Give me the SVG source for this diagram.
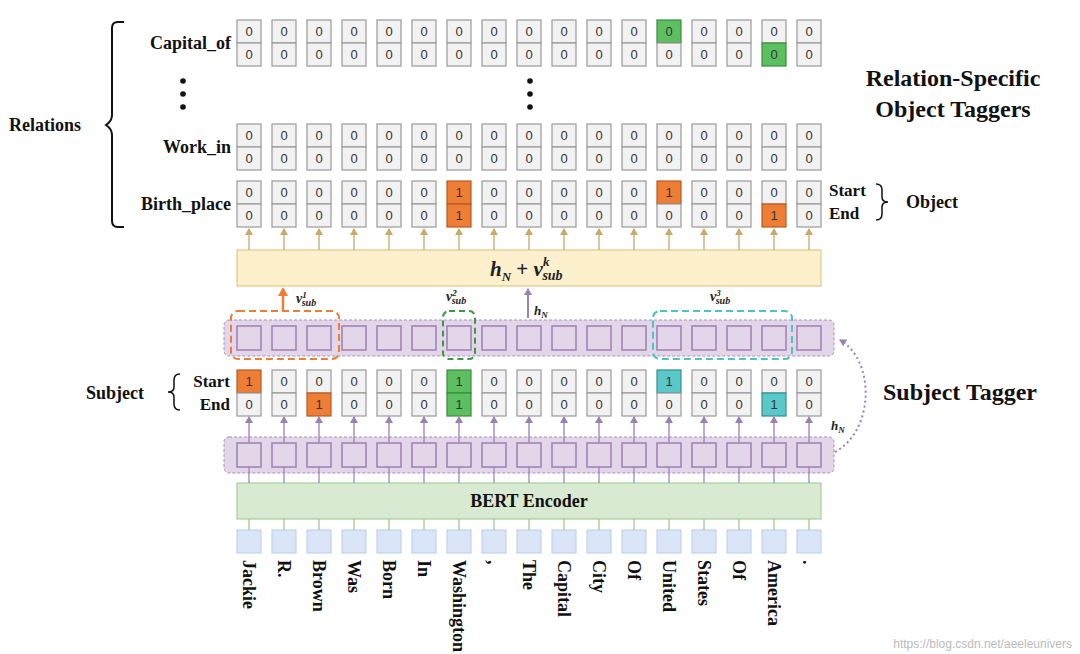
<svg xmlns="http://www.w3.org/2000/svg" width="1080" height="654" viewBox="0 0 1080 654">
<defs>
<style>
.c{fill:#f2f2f2;stroke:#999;stroke-width:1.2}
.o{fill:#ee7d35;stroke:#b85c20;stroke-width:1.2}
.g{fill:#5cc060;stroke:#3a8a3c;stroke-width:1.2}
.b{fill:#5ac8c8;stroke:#2f8f8f;stroke-width:1.2}
.t{font-family:"Liberation Sans",Arial,sans-serif;font-size:13px;fill:#333;text-anchor:middle}
.l{font-family:"Liberation Serif","Times New Roman",serif;font-weight:bold;font-size:18px;fill:#111}
.w{font-family:"Liberation Serif","Times New Roman",serif;font-weight:bold;font-size:18px;fill:#111}
.ya{stroke:#c8a96a;stroke-width:1.3;fill:none;marker-end:url(#my)}
.pa{stroke:#9b80b5;stroke-width:1.3;fill:none;marker-end:url(#mp)}
.pl{stroke:#9b80b5;stroke-width:1.2}
.gl{stroke:#9cc48a;stroke-width:1.2}
.tok{fill:#dae6f8;stroke:#b8cce8;stroke-width:1}
.m{font-family:"Liberation Serif","Times New Roman",serif;font-weight:bold;font-style:italic;fill:#222}
</style>
<marker id="my" markerWidth="8" markerHeight="8" refX="6" refY="4" orient="auto" markerUnits="userSpaceOnUse"><path d="M0,0 L7,4 L0,8 z" fill="#c8a96a"/></marker>
<marker id="mp" markerWidth="8" markerHeight="8" refX="6" refY="4" orient="auto" markerUnits="userSpaceOnUse"><path d="M0,0 L7,4 L0,8 z" fill="#9b80b5"/></marker>
<marker id="mo" markerWidth="10" markerHeight="10" refX="7" refY="5" orient="auto" markerUnits="userSpaceOnUse"><path d="M0,0 L9,5 L0,10 z" fill="#ee7d35"/></marker>
</defs>
<rect width="1080" height="654" fill="#fff"/>

<g id="labels">
<text class="l" x="231" y="49" text-anchor="end">Capital_of</text>
<text class="l" x="231" y="153" text-anchor="end">Work_in</text>
<text class="l" x="231" y="210" text-anchor="end">Birth_place</text>
<circle cx="183" cy="81" r="2.8" fill="#111"/><circle cx="183" cy="94" r="2.8" fill="#111"/><circle cx="183" cy="107" r="2.8" fill="#111"/>
<circle cx="530" cy="81" r="2.8" fill="#111"/><circle cx="530" cy="94" r="2.8" fill="#111"/><circle cx="530" cy="107" r="2.8" fill="#111"/>
<path d="M124,22 h-6 q-6,0 -6,6 v87 q0,6 -6,10 q6,4 6,10 v86 q0,6 6,6 h6" fill="none" stroke="#111" stroke-width="2"/>
<text class="l" x="9" y="131">Relations</text>
<text x="953" y="86" class="w" style="font-size:24px" text-anchor="middle">Relation-Specific</text>
<text x="953" y="117" class="w" style="font-size:24px" text-anchor="middle">Object Taggers</text>
<text class="l" x="829" y="196" style="font-size:17px">Start</text>
<text class="l" x="829" y="219" style="font-size:17px">End</text>
<path d="M876,184 q6,0 6,6 v7 q0,5 6,5 q-6,0 -6,5 v7 q0,6 -6,6" fill="none" stroke="#111" stroke-width="1.5"/>
<text class="l" x="906" y="208">Object</text>
<text class="l" x="230" y="387" text-anchor="end" style="font-size:17px">Start</text>
<text class="l" x="230" y="410" text-anchor="end" style="font-size:17px">End</text>
<path d="M180,374 q-6,0 -6,6 v7 q0,5 -6,5 q6,0 6,5 v7 q0,6 6,6" fill="none" stroke="#111" stroke-width="1.5"/>
<text class="l" x="86" y="399">Subject</text>
<text x="960" y="400" class="w" style="font-size:24px" text-anchor="middle">Subject Tagger</text>
</g>

<g id="row-capital" transform="translate(0,20)">
<rect class="c" x="237" y="0" width="24" height="23"/><rect class="c" x="237" y="23" width="24" height="23"/>
<rect class="c" x="272" y="0" width="24" height="23"/><rect class="c" x="272" y="23" width="24" height="23"/>
<rect class="c" x="307" y="0" width="24" height="23"/><rect class="c" x="307" y="23" width="24" height="23"/>
<rect class="c" x="342" y="0" width="24" height="23"/><rect class="c" x="342" y="23" width="24" height="23"/>
<rect class="c" x="377" y="0" width="24" height="23"/><rect class="c" x="377" y="23" width="24" height="23"/>
<rect class="c" x="412" y="0" width="24" height="23"/><rect class="c" x="412" y="23" width="24" height="23"/>
<rect class="c" x="447" y="0" width="24" height="23"/><rect class="c" x="447" y="23" width="24" height="23"/>
<rect class="c" x="482" y="0" width="24" height="23"/><rect class="c" x="482" y="23" width="24" height="23"/>
<rect class="c" x="517" y="0" width="24" height="23"/><rect class="c" x="517" y="23" width="24" height="23"/>
<rect class="c" x="552" y="0" width="24" height="23"/><rect class="c" x="552" y="23" width="24" height="23"/>
<rect class="c" x="587" y="0" width="24" height="23"/><rect class="c" x="587" y="23" width="24" height="23"/>
<rect class="c" x="622" y="0" width="24" height="23"/><rect class="c" x="622" y="23" width="24" height="23"/>
<rect class="g" x="657" y="0" width="24" height="23"/><rect class="c" x="657" y="23" width="24" height="23"/>
<rect class="c" x="692" y="0" width="24" height="23"/><rect class="c" x="692" y="23" width="24" height="23"/>
<rect class="c" x="727" y="0" width="24" height="23"/><rect class="c" x="727" y="23" width="24" height="23"/>
<rect class="c" x="762" y="0" width="24" height="23"/><rect class="g" x="762" y="23" width="24" height="23"/>
<rect class="c" x="797" y="0" width="24" height="23"/><rect class="c" x="797" y="23" width="24" height="23"/>
<text class="t" y="16"><tspan x="249">0</tspan><tspan x="284">0</tspan><tspan x="319">0</tspan><tspan x="354">0</tspan><tspan x="389">0</tspan><tspan x="424">0</tspan><tspan x="459">0</tspan><tspan x="494">0</tspan><tspan x="529">0</tspan><tspan x="564">0</tspan><tspan x="599">0</tspan><tspan x="634">0</tspan><tspan x="669">0</tspan><tspan x="704">0</tspan><tspan x="739">0</tspan><tspan x="774">0</tspan><tspan x="809">0</tspan></text>
<text class="t" y="39"><tspan x="249">0</tspan><tspan x="284">0</tspan><tspan x="319">0</tspan><tspan x="354">0</tspan><tspan x="389">0</tspan><tspan x="424">0</tspan><tspan x="459">0</tspan><tspan x="494">0</tspan><tspan x="529">0</tspan><tspan x="564">0</tspan><tspan x="599">0</tspan><tspan x="634">0</tspan><tspan x="669">0</tspan><tspan x="704">0</tspan><tspan x="739">0</tspan><tspan x="774">0</tspan><tspan x="809">0</tspan></text>
</g>

<g id="row-workin" transform="translate(0,124)">
<rect class="c" x="237" y="0" width="24" height="23"/><rect class="c" x="237" y="23" width="24" height="23"/>
<rect class="c" x="272" y="0" width="24" height="23"/><rect class="c" x="272" y="23" width="24" height="23"/>
<rect class="c" x="307" y="0" width="24" height="23"/><rect class="c" x="307" y="23" width="24" height="23"/>
<rect class="c" x="342" y="0" width="24" height="23"/><rect class="c" x="342" y="23" width="24" height="23"/>
<rect class="c" x="377" y="0" width="24" height="23"/><rect class="c" x="377" y="23" width="24" height="23"/>
<rect class="c" x="412" y="0" width="24" height="23"/><rect class="c" x="412" y="23" width="24" height="23"/>
<rect class="c" x="447" y="0" width="24" height="23"/><rect class="c" x="447" y="23" width="24" height="23"/>
<rect class="c" x="482" y="0" width="24" height="23"/><rect class="c" x="482" y="23" width="24" height="23"/>
<rect class="c" x="517" y="0" width="24" height="23"/><rect class="c" x="517" y="23" width="24" height="23"/>
<rect class="c" x="552" y="0" width="24" height="23"/><rect class="c" x="552" y="23" width="24" height="23"/>
<rect class="c" x="587" y="0" width="24" height="23"/><rect class="c" x="587" y="23" width="24" height="23"/>
<rect class="c" x="622" y="0" width="24" height="23"/><rect class="c" x="622" y="23" width="24" height="23"/>
<rect class="c" x="657" y="0" width="24" height="23"/><rect class="c" x="657" y="23" width="24" height="23"/>
<rect class="c" x="692" y="0" width="24" height="23"/><rect class="c" x="692" y="23" width="24" height="23"/>
<rect class="c" x="727" y="0" width="24" height="23"/><rect class="c" x="727" y="23" width="24" height="23"/>
<rect class="c" x="762" y="0" width="24" height="23"/><rect class="c" x="762" y="23" width="24" height="23"/>
<rect class="c" x="797" y="0" width="24" height="23"/><rect class="c" x="797" y="23" width="24" height="23"/>
<text class="t" y="16"><tspan x="249">0</tspan><tspan x="284">0</tspan><tspan x="319">0</tspan><tspan x="354">0</tspan><tspan x="389">0</tspan><tspan x="424">0</tspan><tspan x="459">0</tspan><tspan x="494">0</tspan><tspan x="529">0</tspan><tspan x="564">0</tspan><tspan x="599">0</tspan><tspan x="634">0</tspan><tspan x="669">0</tspan><tspan x="704">0</tspan><tspan x="739">0</tspan><tspan x="774">0</tspan><tspan x="809">0</tspan></text>
<text class="t" y="39"><tspan x="249">0</tspan><tspan x="284">0</tspan><tspan x="319">0</tspan><tspan x="354">0</tspan><tspan x="389">0</tspan><tspan x="424">0</tspan><tspan x="459">0</tspan><tspan x="494">0</tspan><tspan x="529">0</tspan><tspan x="564">0</tspan><tspan x="599">0</tspan><tspan x="634">0</tspan><tspan x="669">0</tspan><tspan x="704">0</tspan><tspan x="739">0</tspan><tspan x="774">0</tspan><tspan x="809">0</tspan></text>
</g>

<g id="row-birth" transform="translate(0,181)">
<rect class="c" x="237" y="0" width="24" height="23"/><rect class="c" x="237" y="23" width="24" height="23"/>
<rect class="c" x="272" y="0" width="24" height="23"/><rect class="c" x="272" y="23" width="24" height="23"/>
<rect class="c" x="307" y="0" width="24" height="23"/><rect class="c" x="307" y="23" width="24" height="23"/>
<rect class="c" x="342" y="0" width="24" height="23"/><rect class="c" x="342" y="23" width="24" height="23"/>
<rect class="c" x="377" y="0" width="24" height="23"/><rect class="c" x="377" y="23" width="24" height="23"/>
<rect class="c" x="412" y="0" width="24" height="23"/><rect class="c" x="412" y="23" width="24" height="23"/>
<rect class="o" x="447" y="0" width="24" height="23"/><rect class="o" x="447" y="23" width="24" height="23"/>
<rect class="c" x="482" y="0" width="24" height="23"/><rect class="c" x="482" y="23" width="24" height="23"/>
<rect class="c" x="517" y="0" width="24" height="23"/><rect class="c" x="517" y="23" width="24" height="23"/>
<rect class="c" x="552" y="0" width="24" height="23"/><rect class="c" x="552" y="23" width="24" height="23"/>
<rect class="c" x="587" y="0" width="24" height="23"/><rect class="c" x="587" y="23" width="24" height="23"/>
<rect class="c" x="622" y="0" width="24" height="23"/><rect class="c" x="622" y="23" width="24" height="23"/>
<rect class="o" x="657" y="0" width="24" height="23"/><rect class="c" x="657" y="23" width="24" height="23"/>
<rect class="c" x="692" y="0" width="24" height="23"/><rect class="c" x="692" y="23" width="24" height="23"/>
<rect class="c" x="727" y="0" width="24" height="23"/><rect class="c" x="727" y="23" width="24" height="23"/>
<rect class="c" x="762" y="0" width="24" height="23"/><rect class="o" x="762" y="23" width="24" height="23"/>
<rect class="c" x="797" y="0" width="24" height="23"/><rect class="c" x="797" y="23" width="24" height="23"/>
<text class="t" y="16"><tspan x="249">0</tspan><tspan x="284">0</tspan><tspan x="319">0</tspan><tspan x="354">0</tspan><tspan x="389">0</tspan><tspan x="424">0</tspan><tspan x="459">1</tspan><tspan x="494">0</tspan><tspan x="529">0</tspan><tspan x="564">0</tspan><tspan x="599">0</tspan><tspan x="634">0</tspan><tspan x="669">1</tspan><tspan x="704">0</tspan><tspan x="739">0</tspan><tspan x="774">0</tspan><tspan x="809">0</tspan></text>
<text class="t" y="39"><tspan x="249">0</tspan><tspan x="284">0</tspan><tspan x="319">0</tspan><tspan x="354">0</tspan><tspan x="389">0</tspan><tspan x="424">0</tspan><tspan x="459">1</tspan><tspan x="494">0</tspan><tspan x="529">0</tspan><tspan x="564">0</tspan><tspan x="599">0</tspan><tspan x="634">0</tspan><tspan x="669">0</tspan><tspan x="704">0</tspan><tspan x="739">0</tspan><tspan x="774">1</tspan><tspan x="809">0</tspan></text>
</g>

<g id="sum-box">
<rect x="237" y="250" width="584" height="36" fill="#fdf0cc" stroke="#e0c98a" stroke-width="1.2"/>
<text class="m" x="490" y="276" style="font-size:21px">h<tspan font-size="13" dy="5">N</tspan><tspan dy="-5" font-style="normal"> + </tspan>v<tspan font-size="13" dy="-10">k</tspan><tspan font-size="14" dx="-7" dy="14">sub</tspan></text>
</g>

<g id="upper-band">
<rect x="224" y="320" width="610" height="36" rx="5" fill="#e2d6e8" stroke="#a990bd" stroke-width="1" stroke-dasharray="3,2"/>
<g fill="#e2d6e8" stroke="#9b80b5" stroke-width="1.5">
<rect x="237" y="326" width="24" height="24"/><rect x="272" y="326" width="24" height="24"/><rect x="307" y="326" width="24" height="24"/><rect x="342" y="326" width="24" height="24"/><rect x="377" y="326" width="24" height="24"/><rect x="412" y="326" width="24" height="24"/><rect x="447" y="326" width="24" height="24"/><rect x="482" y="326" width="24" height="24"/><rect x="517" y="326" width="24" height="24"/><rect x="552" y="326" width="24" height="24"/><rect x="587" y="326" width="24" height="24"/><rect x="622" y="326" width="24" height="24"/><rect x="657" y="326" width="24" height="24"/><rect x="692" y="326" width="24" height="24"/><rect x="727" y="326" width="24" height="24"/><rect x="762" y="326" width="24" height="24"/><rect x="797" y="326" width="24" height="24"/>
</g>
<rect x="231" y="311" width="108" height="48" rx="7" fill="none" stroke="#ee7d35" stroke-width="2" stroke-dasharray="7,4"/>
<rect x="443" y="311" width="32" height="48" rx="6" fill="none" stroke="#3a9a3c" stroke-width="2" stroke-dasharray="6,4"/>
<rect x="653" y="311" width="139" height="48" rx="7" fill="none" stroke="#4cc4c4" stroke-width="2" stroke-dasharray="7,4"/>
</g>

<g id="row-subject" transform="translate(0,370)">
<rect class="o" x="237" y="0" width="24" height="23"/><rect class="c" x="237" y="23" width="24" height="23"/>
<rect class="c" x="272" y="0" width="24" height="23"/><rect class="c" x="272" y="23" width="24" height="23"/>
<rect class="c" x="307" y="0" width="24" height="23"/><rect class="o" x="307" y="23" width="24" height="23"/>
<rect class="c" x="342" y="0" width="24" height="23"/><rect class="c" x="342" y="23" width="24" height="23"/>
<rect class="c" x="377" y="0" width="24" height="23"/><rect class="c" x="377" y="23" width="24" height="23"/>
<rect class="c" x="412" y="0" width="24" height="23"/><rect class="c" x="412" y="23" width="24" height="23"/>
<rect class="g" x="447" y="0" width="24" height="23"/><rect class="g" x="447" y="23" width="24" height="23"/>
<rect class="c" x="482" y="0" width="24" height="23"/><rect class="c" x="482" y="23" width="24" height="23"/>
<rect class="c" x="517" y="0" width="24" height="23"/><rect class="c" x="517" y="23" width="24" height="23"/>
<rect class="c" x="552" y="0" width="24" height="23"/><rect class="c" x="552" y="23" width="24" height="23"/>
<rect class="c" x="587" y="0" width="24" height="23"/><rect class="c" x="587" y="23" width="24" height="23"/>
<rect class="c" x="622" y="0" width="24" height="23"/><rect class="c" x="622" y="23" width="24" height="23"/>
<rect class="b" x="657" y="0" width="24" height="23"/><rect class="c" x="657" y="23" width="24" height="23"/>
<rect class="c" x="692" y="0" width="24" height="23"/><rect class="c" x="692" y="23" width="24" height="23"/>
<rect class="c" x="727" y="0" width="24" height="23"/><rect class="c" x="727" y="23" width="24" height="23"/>
<rect class="c" x="762" y="0" width="24" height="23"/><rect class="b" x="762" y="23" width="24" height="23"/>
<rect class="c" x="797" y="0" width="24" height="23"/><rect class="c" x="797" y="23" width="24" height="23"/>
<text class="t" y="16"><tspan x="249">1</tspan><tspan x="284">0</tspan><tspan x="319">0</tspan><tspan x="354">0</tspan><tspan x="389">0</tspan><tspan x="424">0</tspan><tspan x="459">1</tspan><tspan x="494">0</tspan><tspan x="529">0</tspan><tspan x="564">0</tspan><tspan x="599">0</tspan><tspan x="634">0</tspan><tspan x="669">1</tspan><tspan x="704">0</tspan><tspan x="739">0</tspan><tspan x="774">0</tspan><tspan x="809">0</tspan></text>
<text class="t" y="39"><tspan x="249">0</tspan><tspan x="284">0</tspan><tspan x="319">1</tspan><tspan x="354">0</tspan><tspan x="389">0</tspan><tspan x="424">0</tspan><tspan x="459">1</tspan><tspan x="494">0</tspan><tspan x="529">0</tspan><tspan x="564">0</tspan><tspan x="599">0</tspan><tspan x="634">0</tspan><tspan x="669">0</tspan><tspan x="704">0</tspan><tspan x="739">0</tspan><tspan x="774">1</tspan><tspan x="809">0</tspan></text>
</g>

<g id="lower-band">
<rect x="224" y="437" width="610" height="36" rx="5" fill="#e2d6e8" stroke="#a990bd" stroke-width="1" stroke-dasharray="3,2"/>
<g fill="#e2d6e8" stroke="#9b80b5" stroke-width="1.5">
<rect x="237" y="443" width="24" height="24"/><rect x="272" y="443" width="24" height="24"/><rect x="307" y="443" width="24" height="24"/><rect x="342" y="443" width="24" height="24"/><rect x="377" y="443" width="24" height="24"/><rect x="412" y="443" width="24" height="24"/><rect x="447" y="443" width="24" height="24"/><rect x="482" y="443" width="24" height="24"/><rect x="517" y="443" width="24" height="24"/><rect x="552" y="443" width="24" height="24"/><rect x="587" y="443" width="24" height="24"/><rect x="622" y="443" width="24" height="24"/><rect x="657" y="443" width="24" height="24"/><rect x="692" y="443" width="24" height="24"/><rect x="727" y="443" width="24" height="24"/><rect x="762" y="443" width="24" height="24"/><rect x="797" y="443" width="24" height="24"/>
</g>
</g>

<g id="bert">
<rect x="237" y="483" width="584" height="36" fill="#d9ead3" stroke="#a8cf98" stroke-width="1.2"/>
<text class="w" x="529" y="507" text-anchor="middle" style="font-size:18px">BERT Encoder</text>
</g>

<g id="tokens">
<g class="tok">
<rect x="237" y="530" width="24" height="23"/><rect x="272" y="530" width="24" height="23"/><rect x="307" y="530" width="24" height="23"/><rect x="342" y="530" width="24" height="23"/><rect x="377" y="530" width="24" height="23"/><rect x="412" y="530" width="24" height="23"/><rect x="447" y="530" width="24" height="23"/><rect x="482" y="530" width="24" height="23"/><rect x="517" y="530" width="24" height="23"/><rect x="552" y="530" width="24" height="23"/><rect x="587" y="530" width="24" height="23"/><rect x="622" y="530" width="24" height="23"/><rect x="657" y="530" width="24" height="23"/><rect x="692" y="530" width="24" height="23"/><rect x="727" y="530" width="24" height="23"/><rect x="762" y="530" width="24" height="23"/><rect x="797" y="530" width="24" height="23"/>
</g>
<text class="w" transform="translate(243,560) rotate(90)">Jackie</text>
<text class="w" transform="translate(278,560) rotate(90)">R.</text>
<text class="w" transform="translate(313,560) rotate(90)">Brown</text>
<text class="w" transform="translate(348,560) rotate(90)">Was</text>
<text class="w" transform="translate(383,560) rotate(90)">Born</text>
<text class="w" transform="translate(418,560) rotate(90)">In</text>
<text class="w" transform="translate(453,560) rotate(90)">Washington</text>
<text class="w" transform="translate(488,560) rotate(90)">,</text>
<text class="w" transform="translate(523,560) rotate(90)">The</text>
<text class="w" transform="translate(558,560) rotate(90)">Capital</text>
<text class="w" transform="translate(593,560) rotate(90)">City</text>
<text class="w" transform="translate(628,560) rotate(90)">Of</text>
<text class="w" transform="translate(663,560) rotate(90)">United</text>
<text class="w" transform="translate(698,560) rotate(90)">States</text>
<text class="w" transform="translate(733,560) rotate(90)">Of</text>
<text class="w" transform="translate(768,560) rotate(90)">America</text>
<text class="w" transform="translate(803,560) rotate(90)">.</text>
</g>

<g id="connectors">
<g class="ya">
<path d="M249,250V229"/><path d="M284,250V229"/><path d="M319,250V229"/><path d="M354,250V229"/><path d="M389,250V229"/><path d="M424,250V229"/><path d="M459,250V229"/><path d="M494,250V229"/><path d="M529,250V229"/><path d="M564,250V229"/><path d="M599,250V229"/><path d="M634,250V229"/><path d="M669,250V229"/><path d="M704,250V229"/><path d="M739,250V229"/><path d="M774,250V229"/><path d="M809,250V229"/>
</g>
<g class="pa">
<path d="M249,443V417"/><path d="M284,443V417"/><path d="M319,443V417"/><path d="M354,443V417"/><path d="M389,443V417"/><path d="M424,443V417"/><path d="M459,443V417"/><path d="M494,443V417"/><path d="M529,443V417"/><path d="M564,443V417"/><path d="M599,443V417"/><path d="M634,443V417"/><path d="M669,443V417"/><path d="M704,443V417"/><path d="M739,443V417"/><path d="M774,443V417"/><path d="M809,443V417"/>
</g>
<path class="pl" d="M249,467V483M284,467V483M319,467V483M354,467V483M389,467V483M424,467V483M459,467V483M494,467V483M529,467V483M564,467V483M599,467V483M634,467V483M669,467V483M704,467V483M739,467V483M774,467V483M809,467V483"/>
<path class="gl" d="M249,519V530M284,519V530M319,519V530M354,519V530M389,519V530M424,519V530M459,519V530M494,519V530M529,519V530M564,519V530M599,519V530M634,519V530M669,519V530M704,519V530M739,519V530M774,519V530M809,519V530"/>
<path d="M283,311V289" stroke="#ee7d35" stroke-width="2.5" fill="none" marker-end="url(#mo)"/>
<path d="M528,318V289" stroke="#9b80b5" stroke-width="2" fill="none" marker-end="url(#mp)"/>
<path d="M835,452 C875,430 875,360 840,340" stroke="#9b80b5" stroke-width="2" stroke-dasharray="2,3" fill="none" marker-end="url(#mp)"/>
<text class="m" x="296" y="303" style="font-size:14px">v<tspan font-size="9" dy="-5">1</tspan><tspan font-size="10" dx="-5" dy="8">sub</tspan></text>
<text class="m" x="446" y="301" style="font-size:14px">v<tspan font-size="9" dy="-5">2</tspan><tspan font-size="10" dx="-5" dy="8">sub</tspan></text>
<text class="m" x="534" y="315" style="font-size:13px">h<tspan font-size="9" dy="3">N</tspan></text>
<text class="m" x="710" y="301" style="font-size:14px">v<tspan font-size="9" dy="-5">3</tspan><tspan font-size="10" dx="-5" dy="8">sub</tspan></text>
<text class="m" x="831" y="430" style="font-size:13px">h<tspan font-size="9" dy="3">N</tspan></text>
</g>
<text x="1072" y="648" text-anchor="end" font-family="Liberation Sans, sans-serif" font-size="12" fill="#bbb">https://blog.csdn.net/aeeleunivers</text>
</svg>
